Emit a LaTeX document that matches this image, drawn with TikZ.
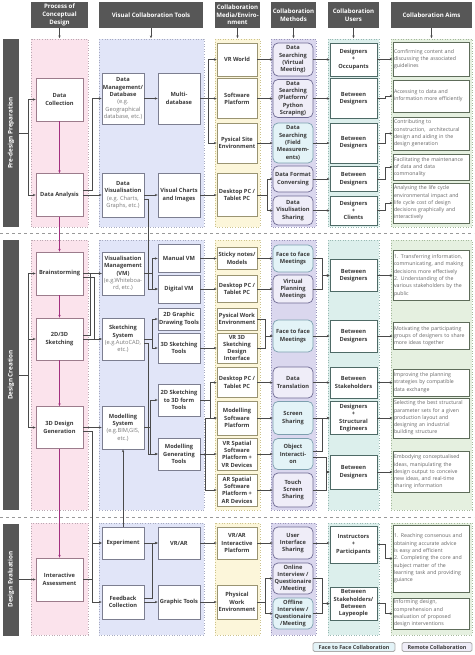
\documentclass[tikz,border=0pt]{standalone}
\usepackage{fontspec}
\usepackage{graphicx}
\setmainfont{Open Sans}
\usetikzlibrary{arrows.meta}

\definecolor{hdrgray}{HTML}{575757}
\definecolor{txtdark}{HTML}{3A3A3A}
\definecolor{txtlight}{HTML}{7A7A7A}
\definecolor{txtaim}{HTML}{666666}
\definecolor{linegray}{HTML}{4A4A4A}
\definecolor{magline}{HTML}{A3307F}
\definecolor{pinkfill}{HTML}{FBE3EC}
\definecolor{pinkedge}{HTML}{BBA8B2}
\definecolor{pinkbox}{HTML}{9C7C8C}
\definecolor{bluefill}{HTML}{E1E5F8}
\definecolor{blueedge}{HTML}{A6AAC0}
\definecolor{bluebox}{HTML}{7C7E90}
\definecolor{yellowfill}{HTML}{FCF6DA}
\definecolor{yellowedge}{HTML}{CCC38C}
\definecolor{yellowbox}{HTML}{9A9472}
\definecolor{purplefill}{HTML}{DAD7EE}
\definecolor{purpleedge}{HTML}{9A96B8}
\definecolor{tealfill}{HTML}{DCEFEC}
\definecolor{tealedge}{HTML}{98B8B2}
\definecolor{tealbox}{HTML}{4E6A66}
\definecolor{greenfill}{HTML}{E5F0E0}
\definecolor{greenedge}{HTML}{A4B89C}
\definecolor{greenbox}{HTML}{5E6C5A}
\definecolor{ffill}{HTML}{E3F3F7}
\definecolor{ffedge}{HTML}{7C9FAE}
\definecolor{rmfill}{HTML}{EFEDF8}
\definecolor{rmedge}{HTML}{6E6A92}

\newcommand{\egtxt}[1]{{\mdseries\color{txtlight}#1}}

\tikzset{
  boxfont/.style={font=\fontsize{5.7}{7.3}\selectfont\bfseries},
  hdr/.style={fill=hdrgray, text=white, align=center, minimum height=26pt, inner sep=1pt, font=\fontsize{6.1}{7.7}\selectfont\bfseries},
  seclbl/.style={fill=hdrgray, text=white, minimum width=16pt, inner sep=0pt, font=\fontsize{6.3}{7}\selectfont\bfseries},
  cbox/.style={boxfont, fill=white, line width=0.7pt, align=center, inner sep=1pt, text=txtdark},
  procbox/.style={cbox, draw=pinkbox, minimum width=47pt},
  toolbox/.style={cbox, draw=bluebox, minimum width=42pt},
  mediabox/.style={cbox, draw=yellowbox, minimum width=40pt},
  ffbox/.style={cbox, draw=ffedge, fill=ffill, rounded corners=5pt, minimum width=40pt},
  rmbox/.style={cbox, draw=rmedge, fill=rmfill, rounded corners=5pt, minimum width=40pt},
  userbox/.style={cbox, draw=tealbox, line width=0.9pt, minimum width=47pt},
  aimbox/.style={cbox, draw=greenbox, line width=0.9pt, align=left, text width=74pt, inner sep=1pt, font=\fontsize{5.2}{7.3}\selectfont, text=txtaim},
  legend/.style={draw=gray!65, line width=0.8pt, rounded corners=1.5pt, minimum height=9pt, inner sep=0.5pt, text=txtdark, font=\fontsize{5.4}{6}\selectfont\bfseries},
  arr/.style={draw=linegray, line width=0.55pt, -{Stealth[length=2.8pt,width=2.4pt]}},
  magarr/.style={draw=magline, line width=0.7pt, -{Stealth[length=2.8pt,width=2.4pt]}},
  colpink/.style={draw=pinkedge, fill=pinkfill, dotted, line width=0.6pt},
  colblue/.style={draw=blueedge, fill=bluefill, dotted, line width=0.6pt},
  colyellow/.style={draw=yellowedge, fill=yellowfill, dotted, line width=0.6pt},
  colpurple/.style={draw=purpleedge, fill=purplefill, dotted, line width=0.6pt},
  colteal/.style={draw=tealedge, fill=tealfill, dotted, line width=0.6pt},
  colgreen/.style={draw=greenedge, fill=greenfill, dotted, line width=0.6pt},
  sepline/.style={draw=gray!80, dashed, line width=0.7pt}
}

\begin{document}
\begin{tikzpicture}[x=1pt,y=-1pt]
	\useasboundingbox (0,0) rectangle (474,655);
	%========
	%Columns
	%========
	\draw[colpink] (31,39) rectangle (88,227);	%Pre-design
	\draw[colblue] (99,39) rectangle (204,227);
	\draw[colyellow] (215,39) rectangle (260,227);
	\draw[colpurple] (271,39) rectangle (316,227);
	\draw[colteal] (328,39) rectangle (379,227);
	\draw[colgreen] (391,39) rectangle (472,227);
	
	\draw[colpink] (31,240) rectangle (88,510);	%Design creation
	\draw[colblue] (99,240) rectangle (204,510);
	\draw[colyellow] (215,240) rectangle (260,510);
	\draw[colpurple] (271,240) rectangle (316,510);
	\draw[colteal] (328,240) rectangle (379,510);
	\draw[colgreen] (391,240) rectangle (472,510);
	
	\draw[colpink] (31,523) rectangle (88,635);	%Design evaluation
	\draw[colblue] (99,523) rectangle (204,635);
	\draw[colyellow] (215,523) rectangle (260,635);
	\draw[colpurple] (271,523) rectangle (316,635);
	\draw[colteal] (328,523) rectangle (379,635);
	\draw[colgreen] (391,523) rectangle (472,635);
	
	\draw[sepline] (0,233) -- (474,233);
	\draw[sepline] (0,517) -- (474,517);
	
	%========
	%Headers
	%========
	\node[hdr, minimum width=57pt] (h1) at (59.5,15) {Process of\\Conceptual\\Design};
	\node[hdr, minimum width=104pt] (h2) at (151,15) {Visual Collaboration Tools};
	\node[hdr, minimum width=45pt] (h3) at (237.5,15) {Collaboration\\Media/Enviro-\\nment};
	\node[hdr, minimum width=45pt] (h4) at (293.5,15) {Collaboration\\Methods};
	\node[hdr, minimum width=51pt] (h5) at (353.5,15) {Collaboration\\Users};
	\node[hdr, minimum width=81pt] (h6) at (431.5,15) {Collaboration Aims};
	\draw[arr] (h1.south) -- ++(0,10);
	\draw[arr] (h2.south) -- ++(0,10);
	\draw[arr] (h3.south) -- ++(0,10);
	\draw[arr] (h4.south) -- ++(0,10);
	\draw[arr] (h5.south) -- ++(0,10);
	\draw[arr] (h6.south) -- ++(0,10);
	
	\node[seclbl, minimum height=188pt] (sl1) at (11,133) {\rotatebox{90}{Pre-design Preparation}};
	\node[seclbl, minimum height=270pt] (sl2) at (11,375) {\rotatebox{90}{Design Creation}};
	\node[seclbl, minimum height=112pt] (sl3) at (11,579.5) {\rotatebox{90}{Design Evaluation}};
	
	%========
	%Pre-design preparation
	%========
	\node[procbox, minimum height=43pt] (dc) at (59.5,99.5) {Data\\Collection};
	\node[procbox, minimum height=43pt] (da) at (59.5,195) {Data Analysis};
	
	\node[toolbox, minimum height=51pt] (dm) at (123,98.5) {Data\\Management/\\Database\\\egtxt{(e.g.}\\\egtxt{Geographical}\\\egtxt{database, etc.)}};
	\node[toolbox, minimum height=51pt] (mdb) at (179,98.5) {Multi-\\database};
	\node[toolbox, minimum height=44pt] (dv) at (123,195) {Data\\Visualisation\\\egtxt{(e.g. Charts,}\\\egtxt{Graphs, etc.)}};
	\node[toolbox, minimum height=44pt] (vci) at (179,195) {Visual Charts\\and Images};
	
	\node[mediabox, minimum height=33pt] (vrw) at (237,59.5) {VR World};
	\node[mediabox, minimum height=40pt] (swp) at (237,98.5) {Software\\Platform};
	\node[mediabox, minimum height=40pt] (pse) at (237,143) {Pysical Site\\Environment};
	\node[mediabox, minimum height=43pt] (dpc1) at (237,195) {Desktop PC /\\Tablet PC};
	
	\node[rmbox, minimum height=33pt] (ds1) at (293,59.5) {Data\\Searching\\(Virtual\\Meeting)};
	\node[rmbox, minimum height=38pt] (ds2) at (293,98.5) {Data\\Searching\\(Platform/\\Python\\Scraping)};
	\node[ffbox, minimum height=40pt] (ds3) at (293,143) {Data\\Searching\\(Field\\Measurem-\\ents)};
	\node[rmbox, minimum height=26pt] (dfc) at (293,179) {Data Format\\Conversing};
	\node[rmbox, minimum height=29pt] (dvs) at (293,210.5) {Data\\Visulisation\\Sharing};
	
	\node[userbox, minimum height=33pt] (u1) at (353.5,59.5) {Designers\\+\\Occupants};
	\node[userbox, minimum height=40pt] (u2) at (353.5,98.5) {Between\\Designers};
	\node[userbox, minimum height=40pt] (u3) at (353.5,143) {Between\\Designers};
	\node[userbox, minimum height=25pt] (u4) at (353.5,179) {Between\\Designers};
	\node[userbox, minimum height=29pt] (u5) at (353.5,210.5) {Designers\\+\\Clients};
	
	\node[aimbox, minimum height=34pt] (a1) at (431,59) {Comfirming content and\\discussing the associated\\guidelines};
	\node[aimbox, minimum height=32pt] (a2) at (431,96) {Accessing to data and\\information more efficiently};
	\node[aimbox, minimum height=33pt] (a3) at (431,133.5) {Contributing to\\construction,\ \ architectural\\design and aiding in the\\design generation};
	\node[aimbox, minimum height=26pt] (a4) at (431,167) {Facilitating the maintenance\\of data and data\\commonality};
	\node[aimbox, minimum height=40pt] (a5) at (431,203) {Analysing the life cycle\\environmental impact and\\life cycle cost of design\\decisions graphically and\\interactively};
	
	\draw[arr] (sl1.east) -- ++(9,0) |- (dc.west);
	\draw[arr] (sl1.east) -- ++(9,0) |- (da.west);
	\draw[magarr] (dc.south) -- (da.north);
	\draw[arr] ([yshift=4.5pt]da.east) -- ++(9,0) |- (dm.west);
	\draw[arr] (da.east) -- (dv.west);
	\draw[arr] (dm.east) -- (mdb.west);
	\draw[arr] (dv.east) -- (vci.west);
	\draw[arr] (mdb.east) -- ++(8,0) |- (vrw.west);
	\draw[arr] (mdb.east) -- (swp.west);
	\draw[arr] (mdb.east) -- ++(8,0) |- (pse.west);
	\draw[arr] (vci.east) -- (dpc1.west);
	\draw[arr] (vrw.east) -- (ds1.west);
	\draw[arr] (swp.east) -- (ds2.west);
	\draw[arr] (pse.east) -- (ds3.west);
	\draw[arr] (dpc1.east) -- ++(10,0) |- (dfc.west);
	\draw[arr] (dpc1.east) -- ++(10,0) |- (dvs.west);
	\draw[arr] (ds1.east) -- (u1.west);
	\draw[arr] (ds2.east) -- (u2.west);
	\draw[arr] (ds3.east) -- (u3.west);
	\draw[arr] (dfc.east) -- (u4.west);
	\draw[arr] (dvs.east) -- (u5.west);
	\draw[arr] (u1.east) -- ++(8,0) |- (a1.west);
	\draw[arr] (u2.east) -- ++(8,0) |- (a2.west);
	\draw[arr] (u3.east) -- ++(8,0) |- (a3.west);
	\draw[arr] (u4.east) -- ++(8,0) |- (a4.west);
	\draw[arr] (u5.east) -- ++(8,0) |- (a5.west);
	
	%========
	%Design creation
	%========
	\node[procbox, minimum height=43pt] (bs) at (59.5,273.5) {Brainstorming};
	\node[procbox, minimum height=42pt] (sk) at (59.5,339) {2D/3D\\Sketching};
	\node[procbox, minimum height=42pt] (dg) at (59.5,427.5) {3D Design\\Generation};
	
	\node[toolbox, minimum height=43pt] (vm) at (123,273.5) {Visualisation\\Management\\(VM)\\\egtxt{(e.g.Whiteboa-}\\\egtxt{rd, etc.)}};
	\node[toolbox, minimum height=28pt] (mvm) at (179,258.5) {Manual VM};
	\node[toolbox, minimum height=28pt] (dvm) at (179,289) {Digital VM};
	\node[toolbox, minimum height=42pt] (ss) at (123,339) {Sketching\\System\\\egtxt{(e.g.AutoCAD,}\\\egtxt{etc.)}};
	\node[toolbox, minimum height=22pt] (gdt) at (179,319) {2D Graphic\\Drawing Tools};
	\node[toolbox, minimum height=30pt] (skt) at (179,348) {3D Sketching\\Tools};
	\node[toolbox, minimum height=32pt] (s3d) at (179,400) {2D Sketching\\to 3D form\\Tools};
	\node[toolbox, minimum height=43pt] (ms) at (123,427.5) {Modelling\\System\\\egtxt{(e.g.BIM,GIS,}\\\egtxt{etc.)}};
	\node[toolbox, minimum height=32pt] (mgt) at (179,454) {Modelling\\Generating\\Tools};
	
	\node[mediabox, minimum height=22pt] (stk) at (237,258.5) {Sticky notes/\\Models};
	\node[mediabox, minimum height=27pt] (dpc2) at (237,289) {Desktop PC /\\Tablet PC};
	\node[mediabox, minimum height=22pt] (pwe) at (237,319) {Pysical Work\\Environment};
	\node[mediabox, minimum height=30pt] (vr3) at (237,348) {VR 3D\\Sketching\\Design\\Interface};
	\node[mediabox, minimum height=30pt] (dpc3) at (237,382.5) {Desktop PC /\\Tablet PC};
	\node[mediabox, minimum height=34pt] (msp) at (237,418) {Modelling\\Software\\Platform};
	\node[mediabox, minimum height=32pt] (vrs) at (237,454) {VR Spatial\\Software\\Platform +\\VR Devices};
	\node[mediabox, minimum height=32pt] (ars) at (237,490) {AR Spatial\\Software\\Platform +\\AR Devices};
	
	\node[ffbox, minimum height=27pt] (ff1) at (293,258.5) {Face to face\\Meetings};
	\node[rmbox, minimum height=28pt] (vpm) at (293,289) {Virtual\\Planning\\Meetings};
	\node[ffbox, minimum height=32pt] (ff2) at (293,336) {Face to face\\Meetings};
	\node[rmbox, minimum height=31pt] (dtr) at (293,382.5) {Data\\Translation};
	\node[ffbox, minimum height=33pt] (scs) at (293,418) {Screen\\Sharing};
	\node[ffbox, minimum height=31pt] (obi) at (293,454) {Object\\Interacti-\\on};
	\node[rmbox, minimum height=34pt] (tss) at (293,490) {Touch\\Screen\\Sharing};
	
	\node[userbox, minimum height=32pt] (u6) at (353.5,275.5) {Between\\Designers};
	\node[userbox, minimum height=32pt] (u7) at (353.5,336) {Between\\Designers};
	\node[userbox, minimum height=31pt] (u8) at (353.5,382.5) {Between\\Stakeholders};
	\node[userbox, minimum height=33pt] (u9) at (353.5,418) {Designers\\+\\Structural\\Engineers};
	\node[userbox, minimum height=34pt] (u10) at (353.5,472) {Between\\Designers};
	
	\node[aimbox, minimum height=50pt] (a6) at (431,275.5) {1. Transferring information,\\communicating, and making\\decisions more effectively\\2. Understanding of the\\various stakeholders by the\\public};
	\node[aimbox, minimum height=27pt] (a7) at (431,336) {Motivating the participating\\groups of designers to share\\more ideas together};
	\node[aimbox, minimum height=27pt] (a8) at (431,382.5) {Improving the planning\\strategies by compatible\\data exchange};
	\node[aimbox, minimum height=40pt] (a9) at (431,418) {Selecting the best structural\\parameter sets for a given\\production layout and\\designing an industrial\\building structure};
	\node[aimbox, minimum height=41pt] (a10) at (431,472) {Embodying conceptualised\\ideas,\ manipulating the\\design output to conceive\\new ideas, and real-time\\sharing information};
	
	\draw[arr] ([yshift=-4pt]dv.east) -- ++(4,0) |- (dvm.west);	%from data visualisation
	\draw[arr] (sl2.east) -- ++(9,0) |- (bs.west);
	\draw[arr] (sl2.east) -- ++(9,0) |- (sk.west);
	\draw[arr] (sl2.east) -- ++(9,0) |- (dg.west);
	\draw[magarr] (da.south) -- (bs.north);
	\draw[magarr] (bs.south) -- (sk.north);
	\draw[magarr] (sk.south) -- (dg.north);
	\draw[arr] (bs.east) -- (vm.west);
	\draw[arr] ([yshift=-4pt]bs.east) -- ++(11,0) |- (ss.west);
	\draw[arr] ([yshift=4pt]sk.east) -- ++(7,0) |- (vm.west);
	\draw[arr] (sk.east) -- (ss.west);
	\draw[arr] (dg.east) -- (ms.west);
	\draw[arr] (vm.east) -- ++(8,0) |- (mvm.west);
	\draw[arr] (vm.east) -- ++(8,0) |- (dvm.west);
	\draw[arr] (ss.east) -- ++(8,0) |- (gdt.west);
	\draw[arr] (ss.east) -- ++(8,0) |- (skt.west);
	\draw[arr] ([yshift=-4pt]ss.east) -- ++(4,0) |- (mgt.west);
	\draw[arr] (ms.east) -- ++(6,0) |- (s3d.west);
	\draw[arr] (ms.east) -- ++(6,0) |- (mgt.west);
	\draw[arr] (mvm.east) -- (stk.west);
	\draw[arr] (dvm.east) -- (dpc2.west);
	\draw[arr] (skt.east) -- (vr3.west);
	\draw[arr] (s3d.east) -- ++(10,0) |- (dpc3.west);
	\draw[arr] (s3d.east) -- ++(10,0) |- (msp.west);
	\draw[arr] (mgt.east) -- ++(5,0) |- (msp.west);
	\draw[arr] (mgt.east) -- (vrs.west);
	\draw[arr] (mgt.east) -- ++(5,0) |- (ars.west);
	\draw[arr] (stk.east) -- (ff1.west);
	\draw[arr] (dpc2.east) -- (vpm.west);
	\draw[arr] (pwe.east) -- ++(8,0) |- (ff2.west);
	\draw[arr] (vr3.east) -- ++(8,0) |- (ff2.west);
	\draw[arr] (dpc3.east) -- (dtr.west);
	\draw[arr] (msp.east) -- (scs.west);
	\draw[arr] (vrs.east) -- (obi.west);
	\draw[arr] (ars.east) -- (tss.west);
	\draw[arr] (ff1.east) -- ++(9,0) |- (u6.west);
	\draw[arr] (vpm.east) -- ++(9,0) |- (u6.west);
	\draw[arr] (ff2.east) -- (u7.west);
	\draw[arr] (dtr.east) -- (u8.west);
	\draw[arr] (scs.east) -- (u9.west);
	\draw[arr] ([yshift=3pt]obi.east) -- ++(9,0) |- (u9.west);
	\draw[arr] ([yshift=-3pt]obi.east) -- ++(13,0) |- (u10.west);
	\draw[arr] (tss.east) -- ++(13,0) |- (u10.west);
	\draw[arr] (u6.east) -- (a6.west);
	\draw[arr] (u7.east) -- (a7.west);
	\draw[arr] (u8.east) -- (a8.west);
	\draw[arr] (u9.east) -- (a9.west);
	\draw[arr] (u10.east) -- (a10.west);
	
	%========
	%Design evaluation
	%========
	\node[procbox, minimum height=43pt] (ia) at (59.5,579.5) {Interactive\\Assessment};
	
	\node[toolbox, minimum height=32pt] (exp) at (123,543) {Experiment};
	\node[toolbox, minimum height=32pt] (vra) at (179,543) {VR/AR};
	\node[toolbox, minimum height=34pt] (fbc) at (123,602) {Feedback\\Collection};
	\node[toolbox, minimum height=34pt] (grt) at (179,602) {Graphic Tools};
	
	\node[mediabox, minimum height=32pt] (vrp) at (237,543) {VR/AR\\Interactive\\Platform};
	\node[mediabox, minimum height=34pt] (pwe2) at (237,602) {Physical\\Work\\Environment};
	
	\node[rmbox, minimum height=32pt] (uis) at (293,543) {User\\Interface\\Sharing};
	\node[rmbox, minimum height=31pt] (oni) at (293,578.5) {Online\\Interview /\\Questionaire\\/Meeting};
	\node[ffbox, minimum height=31pt] (ofi) at (293,613.5) {Offline\\Interview /\\Questionaire\\/Meeting};
	
	\node[userbox, minimum height=37pt] (u11) at (353.5,544.5) {Instructors\\+\\Participants};
	\node[userbox, minimum height=33pt] (u12) at (353.5,603.5) {Between\\Stakeholders/\\Between\\Laypeople};
	
	\node[aimbox, minimum height=67pt] (a11) at (431,558.5) {1. Reaching consenous and\\obtaining accurate advice\\is easy and efficient\\2. Completing the core and\\subject matter of the\\learning task and providing\\guiance};
	\node[aimbox, minimum height=31pt] (a12) at (431,613.5) {Informing design,\\comprehension and\\evaluation of proposed\\design interventions};
	
	\draw[arr] (sl3.east) -- (ia.west);
	\draw[magarr] (dg.south) -- (ia.north);
	\draw[arr] ([yshift=-4pt]dg.east) -- ++(9,0) |- (exp.west);
	\draw[arr] (ia.east) -- ++(9,0) |- (exp.west);
	\draw[arr] (ia.east) -- ++(9,0) |- (fbc.west);
	\draw[arr] (exp.north) -- (ms.south);
	\draw[arr] (exp.east) -- (vra.west);
	\draw[arr] ([yshift=4pt]fbc.east) -- ++(8,0) |- (vra.west);
	\draw[arr] (fbc.east) -- (grt.west);
	\draw[arr] (vra.east) -- (vrp.west);
	\draw[arr] (grt.east) -- (pwe2.west);
	\draw[arr] (vrp.east) -- (uis.west);
	\draw[arr] (pwe2.east) -- ++(8,0) |- (oni.west);
	\draw[arr] (pwe2.east) -- ++(8,0) |- (ofi.west);
	\draw[arr] (uis.east) -- (uis.east -| u11.west);
	\draw[arr] (oni.east) -- ++(9,0) |- (u12.west);
	\draw[arr] (ofi.east) -- ++(9,0) |- (u12.west);
	\draw[arr] (u11.east) -- ++(8,0) |- (a11.west);
	\draw[arr] (u12.east) -- ++(8,0) |- (a12.west);
	
	%========
	%Legend
	%========
	\node[legend, fill=ffill, minimum width=82pt] (lgf) at (354,647) {Face to Face Collaboration};
	\node[legend, fill=rmfill, minimum width=70pt] (lgr) at (437,647) {Remote Collaboration};
\end{tikzpicture}
\end{document}
